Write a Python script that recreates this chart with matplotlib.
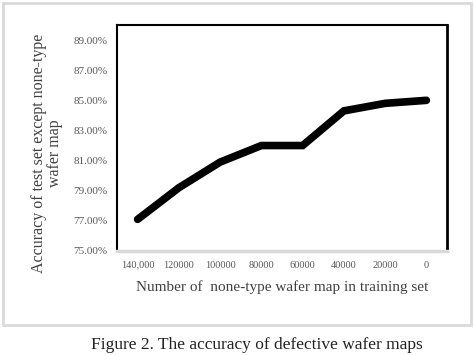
import numpy as np
import matplotlib
matplotlib.use('Agg')
import matplotlib.pyplot as plt
from matplotlib.patches import Rectangle

# data
train_sizes = ['140,000', '120000', '100000', '80000', '60000', '40000', '20000', '0']
accuracy = [77.1, 79.2, 80.9, 82.0, 82.0, 84.3, 84.8, 85.0]
y_ticks = [75, 77, 79, 81, 83, 85, 87, 89]

plt.rcParams['font.family'] = ['Liberation Serif', 'DejaVu Serif']

fig = plt.figure(figsize=(4.74, 3.55), dpi=100)
fig.patch.set_facecolor('white')

# light grey frame around the chart area
frame = Rectangle((3 / 474, 1 - 325 / 355), 468 / 474, 322 / 355,
                  transform=fig.transFigure, fill=False,
                  edgecolor='#d9d9d9', linewidth=2)
fig.patches.append(frame)

ax = fig.add_axes([117 / 474, 1 - 251 / 355, 330 / 474, 226 / 355])
x = np.arange(len(train_sizes))
ax.plot(x, accuracy, color='black', linewidth=5.5, solid_capstyle='round',
        solid_joinstyle='miter')

ax.set_xlim(-0.5, len(train_sizes) - 0.5)
ax.set_ylim(75, 90)
ax.set_yticks(y_ticks)
ax.set_yticklabels(['%.2f%%' % v for v in y_ticks])
ax.set_xticks(x)
ax.set_xticklabels(train_sizes)
ax.tick_params(axis='both', length=0, colors='#595959')
ax.tick_params(axis='y', labelsize=8, pad=7)
ax.tick_params(axis='x', labelsize=7.5, pad=7)

for side in ['left', 'top', 'right']:
    ax.spines[side].set_color('black')
ax.spines['left'].set_linewidth(1.5)
ax.spines['top'].set_linewidth(1.5)
ax.spines['right'].set_linewidth(2)
ax.spines['bottom'].set_color('#d9d9d9')
ax.spines['bottom'].set_linewidth(2.5)

fig.text(282 / 474, 1 - 287 / 355, 'Number of  none-type wafer map in training set',
         ha='center', va='center', fontsize=11, color='#404040')
fig.text(47 / 474, 1 - 153 / 355, 'Accuracy of test set except none-type\nwafer map',
         ha='center', va='center', rotation=90, fontsize=11.5, color='#404040',
         multialignment='center', linespacing=1.0)

fig.text(257 / 474, 1 - 345 / 355, 'Figure 2. The accuracy of defective wafer maps',
         ha='center', va='center', fontsize=12.5, color='#222222')

fig.savefig('out.png', dpi=100, facecolor='white')
